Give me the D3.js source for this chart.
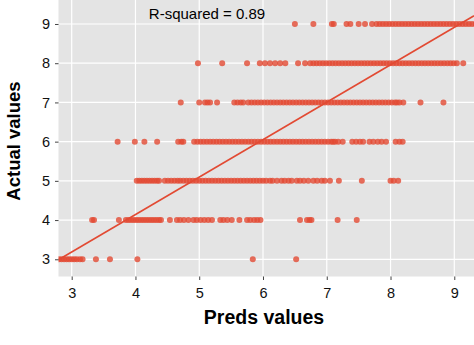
<!DOCTYPE html>
<html><head><meta charset="utf-8">
<script src="https://cdn.jsdelivr.net/npm/d3@7"></script>
<style>body{margin:0;background:#fff}svg{display:block}</style>
</head><body>
<svg id="c" width="474" height="345"></svg>
<script>
const xTicks = [3,4,5,6,7,8,9];
const yTicks = [3,4,5,6,7,8,9];
const xTitle = "Preds values";
const yTitle = "Actual values";
const annotation = "R-squared = 0.89";
const fitIntercept = 0.32, fitSlope = 0.955;

const preds3 = [2.80,2.84,2.88,2.92,2.96,3.00,3.04,3.08,3.13,3.17,3.38,3.60,4.03,5.84,6.52];
const preds4 = [3.32,3.35,3.74,3.85,3.89,3.93,3.97,4.01,4.05,4.09,4.13,4.17,4.21,4.25,4.29,4.33,4.37,4.40,
  4.54,4.65,4.70,4.76,4.83,4.91,4.96,5.02,5.08,5.14,5.20,5.33,5.38,5.44,5.51,5.63,5.75,5.80,5.86,5.91,5.96,
  6.58,6.69,6.73,6.76,7.17,7.47];
const preds5 = [4.02,4.06,4.10,4.14,4.18,4.22,4.26,4.30,4.34,4.37,4.46,4.51,4.56,4.61,4.66,4.70,4.75,
  4.80,4.85,4.90,4.95,5.00,5.05,5.10,5.15,5.20,5.25,5.30,5.35,5.40,5.45,5.50,5.55,5.60,5.65,5.70,5.75,5.80,5.85,5.90,5.95,6.00,6.05,
  6.11,6.15,6.22,6.29,6.34,6.40,6.45,6.53,6.58,6.64,6.71,6.79,6.85,6.92,6.97,7.05,7.19,7.55,8.00,8.05,8.12];
const preds6 = [3.72,3.99,4.14,4.34,4.67,4.72,4.75,
  4.92,4.97,5.02,5.07,5.12,5.17,5.22,5.27,5.32,5.37,5.42,5.47,5.52,5.57,5.62,5.67,5.72,5.77,5.82,5.87,5.92,5.97,
  6.02,6.07,6.12,6.17,6.22,6.27,6.32,6.37,6.42,6.47,6.52,6.57,6.62,6.67,6.72,6.77,6.82,6.87,6.92,6.97,7.02,7.07,7.10,
  7.13,7.18,7.25,7.40,7.46,7.52,7.57,7.67,7.73,7.80,7.86,7.93,8.08,8.14,8.19];
const preds7 = [4.71,5.00,5.09,5.13,5.17,5.28,5.55,5.60,5.65,5.69,
  5.77,5.82,5.87,5.92,5.97,6.02,6.07,6.12,6.17,6.22,6.27,6.32,6.37,6.42,6.47,6.52,6.57,6.62,6.67,6.72,6.77,6.82,6.87,6.92,6.97,
  7.02,7.07,7.12,7.17,7.22,7.27,7.32,7.37,7.42,7.47,7.52,7.57,7.62,7.67,7.72,7.77,7.82,7.87,7.92,7.97,8.02,8.07,8.10,
  8.14,8.20,8.47,8.83];
const preds8 = [4.98,5.36,5.75,5.95,6.03,6.11,6.19,6.27,6.35,6.55,6.66,
  6.74,6.79,6.84,6.89,6.94,6.99,7.04,7.09,7.14,7.19,7.24,7.29,7.34,7.39,7.44,7.49,7.54,7.59,7.64,7.69,7.74,7.79,7.84,7.89,7.94,7.99,
  8.04,8.09,8.14,8.19,8.24,8.29,8.34,8.39,8.44,8.49,8.54,8.59,8.64,8.69,8.74,8.79,8.84,8.89,8.94,8.99,9.04,9.14];
const preds9 = [6.50,6.79,7.08,7.11,7.31,7.37,7.50,7.60,7.71,
  7.78,7.83,7.88,7.93,7.98,8.03,8.08,8.13,8.18,8.23,8.28,8.33,8.38,8.43,8.48,8.53,8.58,8.63,8.68,8.73,8.78,8.83,8.88,8.93,8.98,
  9.03,9.08,9.13,9.18,9.23,9.28,9.33];

const actualLevels = [3,4,5,6,7,8,9];
const predsByLevel = [preds3,preds4,preds5,preds6,preds7,preds8,preds9];

const svg = d3.select("#c");
const P = {left:58.5, right:474, top:0, bottom:276.5};
const x = d3.scaleLinear().domain([2.793, 9.309]).range([P.left, P.right]);
const y = d3.scaleLinear().domain([2.561, 9.612]).range([P.bottom, P.top]);

svg.append("defs").append("clipPath").attr("id","clip")
  .append("rect").attr("x",P.left).attr("y",P.top).attr("width",P.right-P.left).attr("height",P.bottom-P.top);

svg.append("rect").attr("x",P.left).attr("y",P.top).attr("width",P.right-P.left).attr("height",P.bottom-P.top).attr("fill","#e4e4e4");

const g = svg.append("g").attr("clip-path","url(#clip)");
g.selectAll("line.gx").data(xTicks).join("line").attr("class","gx")
  .attr("x1",d=>x(d)).attr("x2",d=>x(d)).attr("y1",P.top).attr("y2",P.bottom)
  .attr("stroke","#fff").attr("stroke-width",1.2);
g.selectAll("line.gy").data(yTicks).join("line").attr("class","gy")
  .attr("y1",d=>y(d)).attr("y2",d=>y(d)).attr("x1",P.left).attr("x2",P.right)
  .attr("stroke","#fff").attr("stroke-width",1.2);

const pts = [];
actualLevels.forEach((a,i)=>predsByLevel[i].forEach(p=>pts.push({p,a})));
g.selectAll("circle").data(pts).join("circle")
  .attr("cx",d=>x(d.p)).attr("cy",d=>y(d.a)).attr("r",3)
  .attr("fill","#e24a33").attr("fill-opacity",0.8);

const xd = x.domain();
g.append("line")
  .attr("x1",x(xd[0])).attr("y1",y(fitIntercept+fitSlope*xd[0]))
  .attr("x2",x(xd[1])).attr("y2",y(fitIntercept+fitSlope*xd[1]))
  .attr("stroke","#e24a33").attr("stroke-width",1.6);

// axes
const xAxis = svg.append("g").attr("transform",`translate(0,${P.bottom})`)
  .call(d3.axisBottom(x).tickValues(xTicks).tickSize(3.5).tickPadding(4).tickFormat(d3.format("d")));
const yAxis = svg.append("g").attr("transform",`translate(${P.left},0)`)
  .call(d3.axisLeft(y).tickValues(yTicks).tickSize(3.5).tickPadding(5).tickFormat(d3.format("d")));
[xAxis,yAxis].forEach(a=>{
  a.select(".domain").remove();
  a.selectAll(".tick line").attr("stroke","#444");
  a.selectAll(".tick text").attr("fill","#111").style("font-family","'Liberation Sans',Arial,sans-serif").style("font-size","14.5px");
});
xAxis.selectAll(".tick text").attr("dy","0.95em");

svg.append("text").attr("x",264).attr("y",324).attr("text-anchor","middle")
  .style("font-family","'Liberation Sans',Arial,sans-serif").style("font-size","19.5px").style("font-weight","bold")
  .attr("fill","#000").text(xTitle);
svg.append("text").attr("transform","translate(20,141) rotate(-90)").attr("text-anchor","middle")
  .style("font-family","'Liberation Sans',Arial,sans-serif").style("font-size","18.5px").style("font-weight","bold")
  .attr("fill","#000").text(yTitle);
svg.append("text").attr("x",207).attr("y",19).attr("text-anchor","middle")
  .style("font-family","'Liberation Sans',Arial,sans-serif").style("font-size","15px")
  .attr("fill","#000").text(annotation);
</script>
</body></html>
